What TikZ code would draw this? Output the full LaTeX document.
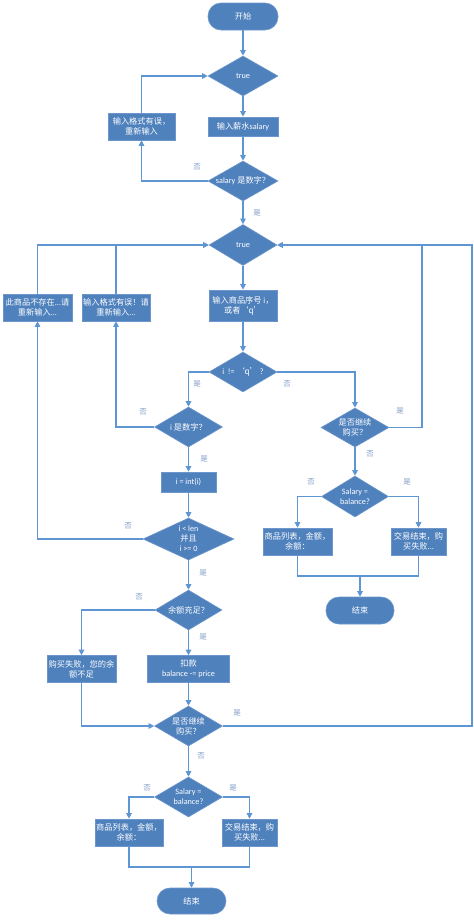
\documentclass[tikz,border=0pt]{standalone}
\usepackage{fontspec}
\setmainfont{Carlito}
\newfontfamily\cjk{Noto Sans CJK SC}
\usetikzlibrary{shapes.geometric,arrows.meta,calc}
\definecolor{nodeblue}{HTML}{4F81BD}
\definecolor{nodeborder}{HTML}{6D97CC}
\definecolor{edgeline}{HTML}{5E95D3}
\definecolor{lblcol}{HTML}{7F9CC8}
\newcommand{\zh}[1]{{\cjk #1}}
\tikzset{
  base/.style={fill=nodeblue, draw=nodeborder, line width=0.6bp, text=white, inner sep=0pt, align=center, font=\fontsize{8.2bp}{10bp}\selectfont},
  proc/.style={base, rectangle},
  dec/.style={base, diamond},
  term/.style={base, rectangle, rounded corners=13bp},
  arr/.style={draw=edgeline, line width=1.1bp, -{Triangle[length=5.5bp,width=5.5bp]}},
  ln/.style={draw=edgeline, line width=1.1bp},
  lbl/.style={text=lblcol, font=\fontsize{7.5bp}{8bp}\selectfont\cjk, inner sep=0pt}
}
\begin{document}
\begin{tikzpicture}[x=1bp,y=-1bp]
\fill[white] (0,0) rectangle (474,921);
\useasboundingbox (0,0) rectangle (474,921);
% nodes
\node[term, minimum width=70bp, minimum height=27bp] (start) at (243,16.5) {\zh{开始}};
\node[dec, minimum width=70bp, minimum height=40bp, shape aspect=1.75] (true1) at (243,76) {true};
\node[proc, minimum width=70bp, minimum height=19bp] (salin) at (243,126.5) {\zh{输入薪水}salary};
\node[dec, minimum width=70bp, minimum height=40bp, shape aspect=1.75] (num1) at (243,181) {salary \zh{是数字？}};
\node[proc, minimum width=67bp, minimum height=27bp] (err1) at (141.5,126.5) {\zh{输入格式有误，}\\\zh{重新输入}};
\node[dec, minimum width=68bp, minimum height=41bp, shape aspect=1.66] (true2) at (243,245) {true};
\node[proc, minimum width=68bp, minimum height=31bp] (input) at (243,305.5) {\zh{输入商品序号} i\zh{，}\\\zh{或者‘q’}};
\node[proc, minimum width=69bp, minimum height=27bp] (noex) at (37.5,307.5) {\zh{此商品不存在}...\zh{请}\\\zh{重新输入}...};
\node[proc, minimum width=68bp, minimum height=27bp] (err2) at (116,307.5) {\zh{输入格式有误！请}\\\zh{重新输入}...};
\node[dec, minimum width=68bp, minimum height=40bp, shape aspect=1.7] (neq) at (243,372) {i\ \ != \zh{‘q’} ?};
\node[dec, minimum width=68bp, minimum height=40bp, shape aspect=1.7] (num2) at (188.5,427) {i \zh{是数字？}};
\node[proc, minimum width=55bp, minimum height=20bp] (int) at (188.5,482) {i = int(i)};
\node[dec, minimum width=91bp, minimum height=42bp, shape aspect=2.17] (range) at (188.5,539) {i {\textless} len\\\zh{并且}\\i {\textgreater}= 0};
\node[dec, minimum width=67bp, minimum height=40bp, shape aspect=1.68] (enough) at (188.5,610) {\zh{余额充足？}};
\node[proc, minimum width=69bp, minimum height=27bp] (fail) at (81.5,669) {\zh{购买失败，您的余}\\\zh{额不足}};
\node[proc, minimum width=82bp, minimum height=27bp] (deduct) at (188.5,669) {\zh{扣款}\\balance -= price};
\node[dec, minimum width=68bp, minimum height=40bp, shape aspect=1.7] (cont2) at (188.5,726) {\zh{是否继续}\\\zh{购买？}};
\node[dec, minimum width=68bp, minimum height=40bp, shape aspect=1.7] (sb2) at (188.5,797) {Salary =\\balance?};
\node[proc, minimum width=68bp, minimum height=27bp] (list2) at (129,832.5) {\zh{商品列表，金额，}\\\zh{余额：}};
\node[proc, minimum width=55bp, minimum height=27bp] (fin2) at (249.5,832.5) {\zh{交易结束，购}\\\zh{买失败}...};
\node[term, minimum width=69bp, minimum height=26bp] (end2) at (191.5,901) {\zh{结束}};
\node[dec, minimum width=68bp, minimum height=39bp, shape aspect=1.74] (cont1) at (355,427.5) {\zh{是否继续}\\\zh{购买？}};
\node[dec, minimum width=67bp, minimum height=41bp, shape aspect=1.63] (sb1) at (355,496.5) {Salary =\\balance?};
\node[proc, minimum width=69bp, minimum height=27bp] (list1) at (297.5,541.5) {\zh{商品列表，金额，}\\\zh{余额：}};
\node[proc, minimum width=55bp, minimum height=27bp] (fin1) at (418.5,541.5) {\zh{交易结束，购}\\\zh{买失败}...};
\node[term, minimum width=68bp, minimum height=27bp] (end1) at (360,610.5) {\zh{结束}};
% helper coordinates
\coordinate (rx) at (472,0);
\coordinate (rx1) at (422,0);
\coordinate (m1) at (360,576);
\coordinate (m2) at (191.5,867);
% connectors
\draw[arr] (start) -- (true1);
\draw[arr] (true1) -- (salin);
\draw[arr] (salin) -- (num1);
\draw[arr] (num1.west) -| (err1.south);
\draw[arr] (err1.north) |- (true1.west);
\draw[arr] (num1) -- (true2);
\draw[arr] (true2) -- (input);
\draw[arr] (input) -- (neq);
\draw[arr] (neq.west) -| (num2.north);
\draw[arr] (neq.east) -| (cont1.north);
\draw[arr] (num2.west) -| (err2.south);
\draw[arr] (err2.north) |- (true2.west);
\draw[arr] (num2) -- (int);
\draw[arr] (int) -- (range);
\draw[arr] (range.west) -| (noex.south);
\draw[arr] (noex.north) |- (true2.west);
\draw[arr] (range) -- (enough);
\draw[arr] (enough.west) -| (fail.north);
\draw[arr] (enough) -- (deduct);
\draw[arr] (fail.south) |- (cont2.west);
\draw[arr] (deduct) -- (cont2);
\draw[arr] (cont2.east) -- (cont2.east -| rx) |- (true2.east);
\draw[arr] (cont1.east) -- (cont1.east -| rx1) |- (true2.east);
\draw[arr] (cont1) -- (sb1);
\draw[arr] (sb1.west) -| (list1.north);
\draw[arr] (sb1.east) -| (fin1.north);
\draw[ln] (list1.south) |- (m1);
\draw[ln] (fin1.south) |- (m1);
\draw[arr] (m1) -- (end1);
\draw[arr] (cont2) -- (sb2);
\draw[arr] (sb2.west) -| (list2.north);
\draw[arr] (sb2.east) -| (fin2.north);
\draw[ln] (list2.south) |- (m2);
\draw[ln] (fin2.south) |- (m2);
\draw[arr] (m2) -- (end2);
% labels
\node[lbl] (l1) at (197,167) {否};
\node[lbl] (l2) at (257,213) {是};
\node[lbl] (l3) at (197,384) {是};
\node[lbl] (l4) at (287,384) {否};
\node[lbl] (l5) at (143,412) {否};
\node[lbl] (l6) at (204,459) {是};
\node[lbl] (l7) at (128,526) {否};
\node[lbl] (l8) at (203,573) {是};
\node[lbl] (l9) at (139,597) {否};
\node[lbl] (l10) at (203,637) {是};
\node[lbl] (l11) at (237,713) {是};
\node[lbl] (l12) at (201,756) {否};
\node[lbl] (l13) at (147,788) {否};
\node[lbl] (l14) at (233,788) {是};
\node[lbl] (l15) at (400,411) {是};
\node[lbl] (l16) at (370,454) {否};
\node[lbl] (l17) at (311,482) {否};
\node[lbl] (l18) at (407,482) {是};
\end{tikzpicture}
\end{document}
